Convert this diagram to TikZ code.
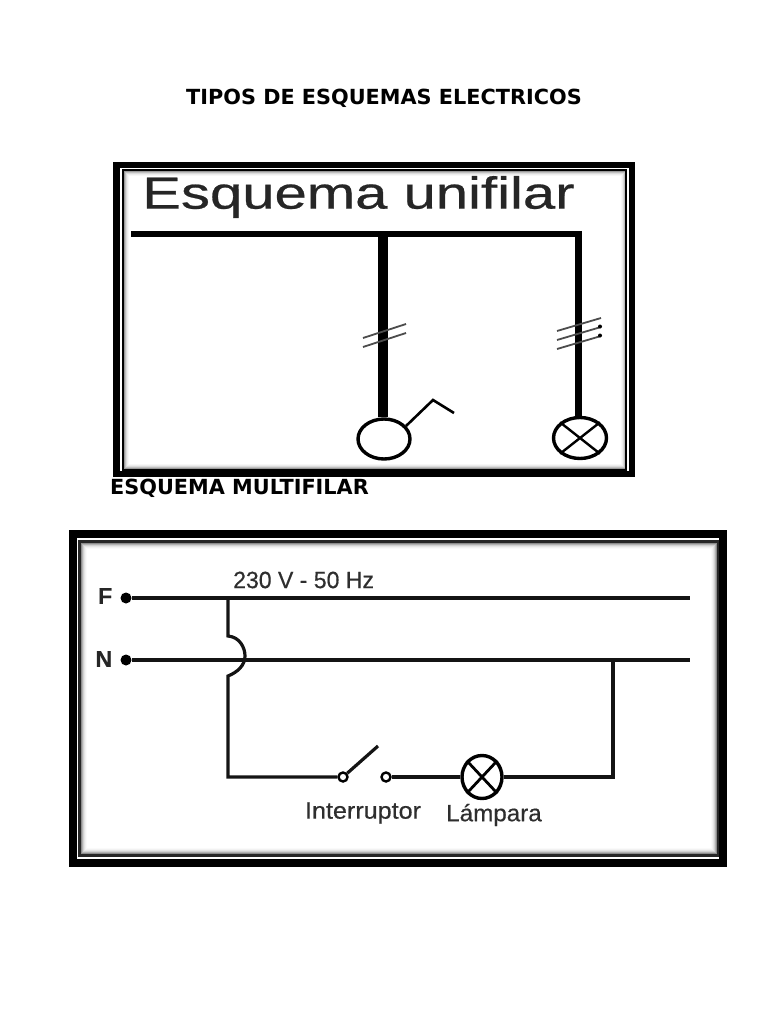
\documentclass[tikz,border=0pt]{standalone}
\usepackage{fontspec}
\setmainfont{DejaVu Sans}
\newfontfamily\labelfont[FakeBold=0.5]{Liberation Sans}
\usetikzlibrary{positioning,calc,shapes.geometric}
\tikzset{
  heading/.style={font=\bfseries\fontsize{20.8}{24}\selectfont,inner sep=0pt},
  wire/.style={line width=3.2pt,black!92},
  tick/.style={line width=1.8pt,black!70},
  lamp/.style={draw,ellipse,line width=3.4pt,inner sep=0pt},
  contact/.style={draw,circle,line width=2.4pt,minimum size=9pt,inner sep=0pt,fill=white},
  terminal/.style={fill,circle,minimum size=11pt,inner sep=0pt},
  tag/.style={font=\labelfont\fontsize{23.5}{26}\selectfont,text=black!82,inner sep=0pt},
  letter/.style={font=\labelfont\bfseries\fontsize{23}{26}\selectfont,text=black!85,inner sep=0pt}
}
\begin{document}
\begin{tikzpicture}[x=1pt,y=-1pt]
      \useasboundingbox (0,0) rectangle (768,1024);
      \coordinate (BL) at (384,439);
      \coordinate (BX) at (580,438);
      \coordinate (FT) at (126,598);
      \coordinate (NT) at (126,660);
      \coordinate (SA) at (343,777);
      \coordinate (SB) at (386,777);
      \coordinate (LM) at (482,777);

      % frames
      \foreach \i/\g in {1/40,2/25,3/14,4/7,5/3}
        \draw[line width=1pt,black!\g] (123+\i,171+\i) rectangle (626-\i,469-\i);
      \draw[line width=2pt] (123,170) rectangle (626,469.5);
      \draw[line width=6.5pt] (116.25,165.25) rectangle (631.75,473.75);
      \foreach \i/\g in {1/45,2/30,3/18,4/10,5/5,6/2}
        \draw[line width=1pt,black!\g] (80+\i,542+\i) rectangle (717-\i,854-\i);
      \draw[line width=3pt,black!85] (79.5,541.5) rectangle (718,855);
      \draw[line width=8pt] (73,534) rectangle (723,863);

      \node[heading] (title) at (384,98) {TIPOS DE ESQUEMAS ELECTRICOS};
      \node[heading,anchor=west] (multi) at (110,488) {ESQUEMA MULTIFILAR};

      % unifilar
      \node[font=\labelfont\fontsize{45}{50}\selectfont,text=black!85,inner sep=0pt,anchor=west,xscale=1.29] (uni) at (142,197) {Esquema unifilar};
      \node[lamp,minimum width=52pt,minimum height=40pt] (bl) at (BL) {};
      \node[lamp,minimum width=53pt,minimum height=41pt] (bx) at (BX) {};
      \coordinate (bus) at (131,234);
      \coordinate (busm) at (383,234);
      \coordinate (busr) at (578,231);
      \coordinate (sw1) at (433,400);
      \coordinate (sw2) at (454,413);
      \draw[line width=6pt] (bus) -- (busm);
      \draw[line width=6pt] (busm) -- (581,234);
      \draw[line width=9.5pt] (busm) -- (busm |- bl.north);
      \draw[line width=7pt] (busr) -- (busr |- bx.north);
      \draw[line width=2.6pt] (bl) ++(22,-13) -- (sw1) -- (sw2);
      \draw[line width=2.4pt] (bx.north east) -- (bx.south west);
      \draw[line width=2.4pt] (bx.north west) -- (bx.south east);
      \draw[tick] (363,338) -- (406,324);
      \draw[tick] (363,347) -- (406,333);
      \draw[tick] (557,331) -- (601,318);
      \draw[tick] (557,340) -- (601,327);
      \draw[tick] (557,349) -- (601,336);
      \fill (600,326.5) circle (2);
      \fill (600,335.5) circle (2);

      % multifilar
      \node[terminal] (ft) at (FT) {};
      \node[terminal] (nt) at (NT) {};
      \node[letter,left=8pt of ft,yshift=2pt] (f) {F};
      \node[letter,left=8pt of nt,yshift=1pt] (n) {N};
      \node[tag,anchor=west,xscale=.98] (volt) at (233,580) {230 V - 50 Hz};
      \coordinate (fe) at (690,598);
      \coordinate (ne) at (690,660);
      \coordinate (dn) at (228,598);
      \coordinate (up) at (228,636);
      \coordinate (lo) at (228,676);
      \coordinate (bc) at (228,777);
      \coordinate (rc) at (613,777);
      \coordinate (rt) at (613,660);
      \coordinate (sw) at (378,746);
      \node[contact] (sa) at (SA) {};
      \node[contact] (sb) at (SB) {};
      \node[lamp,minimum width=40pt,minimum height=43pt] (lm) at (LM) {};
      \draw[wire] (ft) -- (fe);
      \draw[wire] (nt) -- (ne);
      \draw[wire] (dn) -- (up) .. controls (240,637) and (245,648) .. (245,656) .. controls (245,665) and (238,672) .. (lo) -- (bc) -- (sa);
      \draw[wire] (sa) -- (sw);
      \draw[wire] (sb) -- (lm);
      \draw[wire] (lm) -- (rc) -- (rt);
      \draw[line width=2.8pt] (lm.north east) -- (lm.south west);
      \draw[line width=2.8pt] (lm.north west) -- (lm.south east);
      \node[tag,xscale=1.07] (sname) at (363,813) {Interruptor};
      \node[tag,xscale=1.03] (lname) at (494,815) {Lámpara};
\end{tikzpicture}
\end{document}
